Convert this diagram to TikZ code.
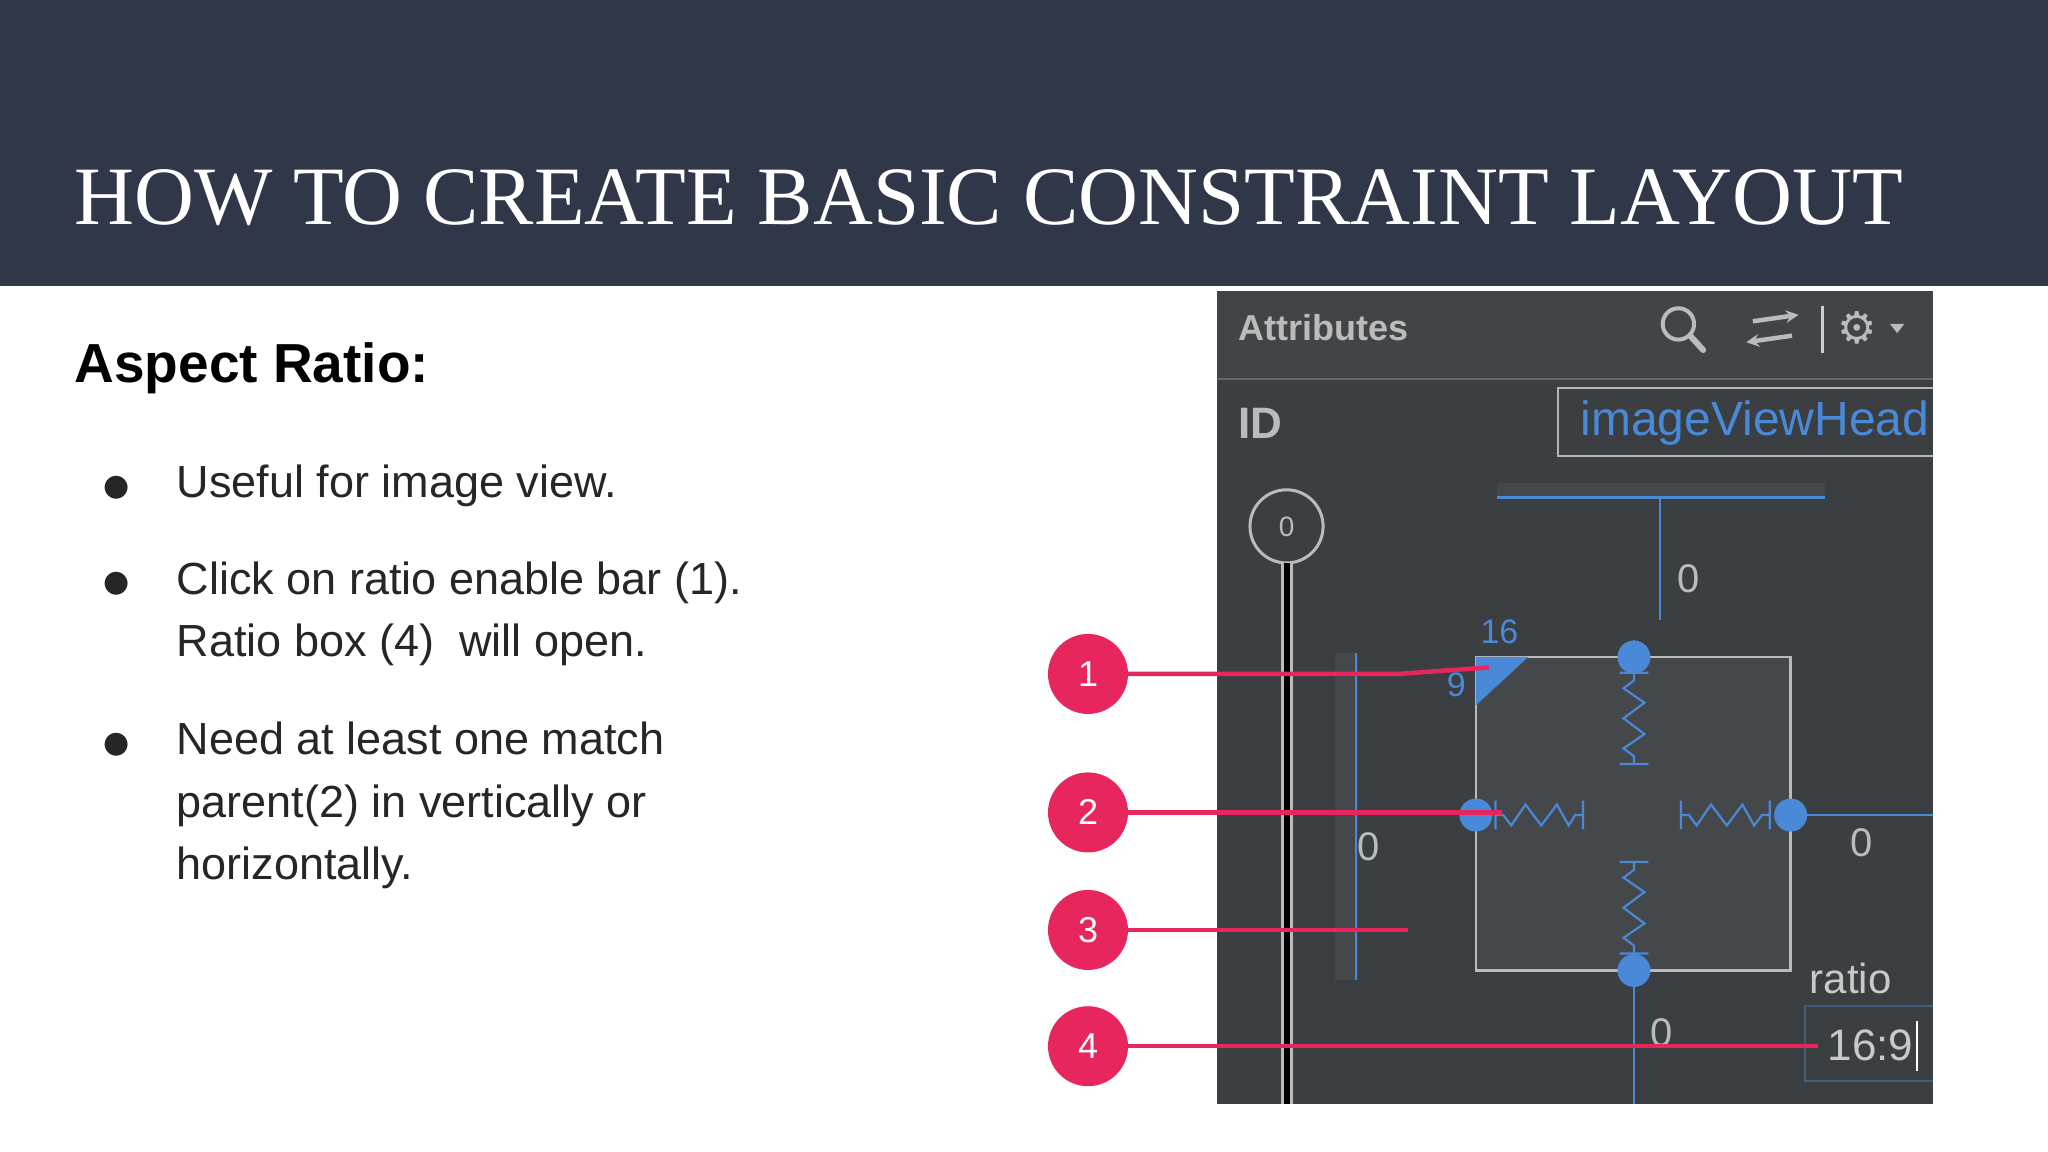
\documentclass[tikz,border=0pt]{standalone}
\usepackage{fontspec}
\setmainfont{Liberation Serif}
\setsansfont{Liberation Sans}
\newfontfamily\dejavu{DejaVu Sans}
\usetikzlibrary{calc}
\definecolor{hdr}{HTML}{2F3748}
\definecolor{pan}{HTML}{3C3F41}
\definecolor{pan2}{HTML}{45484A}
\definecolor{cblue}{HTML}{4A88D8}
\definecolor{mred}{HTML}{E8265E}
\definecolor{ltxt}{HTML}{BBBBBB}
\tikzset{
 num/.style={circle,fill=mred,minimum size=80pt,inner sep=0pt,text=white,font=\sffamily\fontsize{36}{36}\selectfont},
 ptr/.style={mred,line width=4.5pt},
 dot/.style={circle,fill=cblue,minimum size=33pt,inner sep=0pt},
 blu/.style={cblue,line width=2.5pt},
 spr/.style={cblue,line width=2.2pt},
 bul/.style={anchor=base west,font=\sffamily\fontsize{45}{62}\selectfont,text=black!85,align=left,inner sep=0pt},
 bdot/.style={anchor=base west,font=\dejavu\fontsize{30}{30}\selectfont,text=black!85,inner sep=0pt},
 ptxt/.style={font=\sffamily\fontsize{40}{40}\selectfont,text=ltxt,inner sep=0pt}
}
\begin{document}
\begin{tikzpicture}[x=1.306pt,y=-1.306pt]
\useasboundingbox (0,0) rectangle (1568,882);
\fill[white] (0,0) rectangle (1568,882);
\fill[hdr] (0,0) rectangle (1568,219);
\node[anchor=base west,inner sep=0pt,text=white,font=\fontsize{83}{83}\selectfont] (title) at (57,172) {HOW TO CREATE BASIC CONSTRAINT LAYOUT};
% left text
\node[anchor=base west,inner sep=0pt,font=\sffamily\bfseries\fontsize{55}{55}\selectfont] (h) at (57,293) {Aspect Ratio:};
\node[bdot] (b1) at (79,379) {●};
\node[bul] (t1) at (135,381) {Useful for image view.};
\node[bdot] (b2) at (79,453) {●};
\node[bul] (t2) at (135,455) {Click on ratio enable bar (1).};
\node[bul] (t2b) at (135,503) {Ratio box (4)\ \ will open.};
\node[bdot] (b3) at (79,576) {●};
\node[bul] (t3) at (135,578) {Need at least one match};
\node[bul] (t3b) at (135,626) {parent(2) in vertically or};
\node[bul] (t3c) at (135,673) {horizontally.};
% panel
\fill[pan] (932,223) rectangle (1480,845);
\fill[pan2!70!pan] (932,223) rectangle (1480,289);
\draw[black!60,line width=1.5pt] (932,290) -- (1480,290);
\node[anchor=west,font=\sffamily\bfseries\fontsize{36}{36}\selectfont,text=ltxt,inner sep=0pt] (attr) at (948,251) {Attributes};
\draw[ltxt,line width=4pt] (1285,248) circle (12);
\draw[ltxt,line width=6pt,line cap=round] (1294,257) -- (1304,268);
\draw[ltxt,line width=4.5pt,-stealth] (1342,246) -- (1377,241);
\draw[ltxt,line width=4.5pt,-stealth] (1372,257) -- (1337,262);
\draw[ltxt!70,line width=3pt] (1395,234) -- (1395,270);
\node[ltxt,font=\dejavu\fontsize{44}{44}\selectfont,inner sep=0pt] (gear) at (1422,251) {⚙};
\fill[ltxt] (1447,248) -- (1458,248) -- (1452.5,255) -- cycle;
\node[anchor=west,ptxt,font=\sffamily\bfseries\fontsize{44}{44}\selectfont] (id) at (948,324) {ID};
\draw[black!30!ltxt!60,line width=2pt,fill=pan] (1193,297) rectangle (1485,349);
\node[anchor=west,ptxt,text=cblue,font=\sffamily\fontsize{48}{48}\selectfont] (idv) at (1210,324) {imageViewHead};
\fill[pan] (1480,223) rectangle (1500,845);
% top bar
\fill[pan2] (1146,370) rectangle (1397,381);
\draw[blu] (1146,381) -- (1397,381);
\draw[blu] (1271,381) -- (1271,475);
\node[ptxt] (z1) at (1293,443) {0};
% circle
\draw[ltxt,line width=3pt] (985,403) circle (28);
\node[ptxt,font=\sffamily\fontsize{28}{28}\selectfont] (z0) at (985,403) {0};
\draw[ltxt,line width=12pt] (985,431) -- (985,845);
\draw[black,line width=6pt] (985,431) -- (985,845);
% left bar
\fill[pan2] (1022,500) rectangle (1040,750);
\draw[blu] (1038,500) -- (1038,750);
\node[ptxt] (z2) at (1048,648) {0};
% box
\draw[ltxt,line width=2.5pt,fill=pan2] (1130,503) rectangle (1371,743);
\draw[blu] (1371,624) -- (1480,624);
\draw[blu] (1251,743) -- (1251,845);
\draw[blu] (1251,490) -- (1251,503);
\node[ptxt] (z3) at (1425,645) {0};
\node[ptxt] (z4) at (1272,791) {0};
% springs
\foreach \a/\b in {515/585,660/730}{
 \draw[spr] (1240,\a) -- (1262,\a) (1251,\a) -- (1251,\a+6)
   -- (1243,\a+12) -- (1259,\a+23) -- (1243,\a+35) -- (1259,\a+47) -- (1243,\a+58) -- (1251,\b-6) -- (1251,\b) (1240,\b) -- (1262,\b);
 }
\foreach \a/\b in {1145/1212,1287/1355}{
 \draw[spr] (\a,613) -- (\a,635) (\a,624) -- (\a+6,624)
   -- (\a+12,632) -- (\a+23,616) -- (\a+35,632) -- (\a+47,616) -- (\a+56,632) -- (\b-6,624) -- (\b,624) (\b,613) -- (\b,635);
 }
\node[dot] (d1) at (1251,503) {};
\node[dot] (d2) at (1130,624) {};
\node[dot] (d3) at (1371,624) {};
\node[dot] (d4) at (1251,743) {};
\fill[cblue] (1130,503) -- (1170,503) -- (1130,540) -- cycle;
\coordinate (tri) at (1140,511);
\node[ptxt,text=cblue,font=\sffamily\fontsize{34}{34}\selectfont] (n16) at (1148,484) {16};
\node[ptxt,text=cblue,font=\sffamily\fontsize{34}{34}\selectfont] (n9) at (1115,524) {9};
% ratio
\node[ptxt,text=ltxt!80!white,font=\sffamily\fontsize{42}{42}\selectfont] (rat) at (1417,749) {ratio};
\draw[cblue!40!pan,line width=2pt,fill=pan] (1382,770) rectangle (1485,828);
\node[ptxt,text=ltxt!80!white,font=\sffamily\fontsize{44}{44}\selectfont] (r169) at (1432,800) {16:9};
\draw[white,line width=2pt] (1468,782) -- (1468,820);
\fill[white] (1480,223) rectangle (1568,882);
\coordinate (c2) at (1150,622);
\coordinate (c3) at (1078,712);
\coordinate (c4) at (1392,801);
% pointers
\node[num] (m1) at (833,516) {1};
\node[num] (m2) at (833,622) {2};
\node[num] (m3) at (833,712) {3};
\node[num] (m4) at (833,801) {4};
\draw[ptr] (m1) -- (1070,516) -- (tri);
\draw[ptr] (m2) -- (c2);
\draw[ptr] (m3) -- (c3);
\draw[ptr] (m4) -- (c4);
\end{tikzpicture}
\end{document}
